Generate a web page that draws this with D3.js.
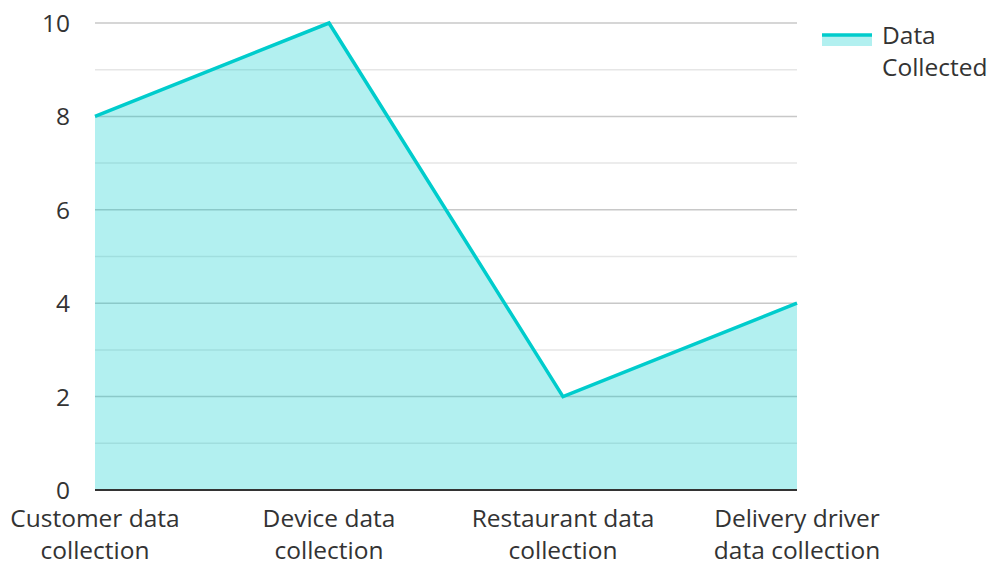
<!DOCTYPE html>
<html>
<head>
<meta charset="utf-8">
<script src="https://cdn.jsdelivr.net/npm/d3@7"></script>
<style>
  body { margin: 0; background: #fff; }
  svg text { font-family: "Open Sans", "Noto Sans", sans-serif; fill: #333; }
</style>
</head>
<body>
<div id="chart"></div>
<script>

// data
const categories = [
  ["Customer data", "collection"],
  ["Device data", "collection"],
  ["Restaurant data", "collection"],
  ["Delivery driver", "data collection"]
];
const values = [8, 10, 2, 4];
const yTicks = [0, 2, 4, 6, 8, 10];
const minorTicks = [1, 3, 5, 7, 9];
const seriesName = ["Data", "Collected"];

const W = 992, H = 562;
const lineColor = "#00cccc";
const fontSize = 24.5;

const svg = d3.select("#chart").append("svg")
  .attr("width", W)
  .attr("height", H);

const x = d3.scalePoint()
  .domain(d3.range(categories.length))
  .range([95, 797])
  .padding(0);

const y = d3.scaleLinear()
  .domain([0, 10])
  .range([490, 23]);

// grid
svg.append("g").selectAll("line.minor")
  .data(minorTicks)
  .join("line")
  .attr("x1", 95).attr("x2", 797)
  .attr("y1", d => y(d)).attr("y2", d => y(d))
  .attr("stroke", "#e6e6e6")
  .attr("stroke-width", 1.5);

svg.append("g").selectAll("line.major")
  .data(yTicks.filter(d => d > 0))
  .join("line")
  .attr("x1", 95).attr("x2", 797)
  .attr("y1", d => y(d)).attr("y2", d => y(d))
  .attr("stroke", "#c8c8c8")
  .attr("stroke-width", 1.5);

// area + line
const area = d3.area()
  .x((d, i) => x(i))
  .y0(y(0))
  .y1(d => y(d));

const line = d3.line()
  .x((d, i) => x(i))
  .y(d => y(d));

svg.append("path")
  .datum(values)
  .attr("d", area)
  .attr("fill", lineColor)
  .attr("fill-opacity", 0.3);

svg.append("path")
  .datum(values)
  .attr("d", line)
  .attr("fill", "none")
  .attr("stroke", lineColor)
  .attr("stroke-width", 3.5)
  .attr("stroke-linejoin", "miter");

// baseline
svg.append("line")
  .attr("x1", 95).attr("x2", 797)
  .attr("y1", y(0)).attr("y2", y(0))
  .attr("stroke", "#333")
  .attr("stroke-width", 2);

// y tick labels
svg.append("g").selectAll("text")
  .data(yTicks)
  .join("text")
  .attr("x", 70)
  .attr("y", d => y(d) + 9)
  .attr("text-anchor", "end")
  .attr("font-size", fontSize)
  .text(d => d);

// x labels
const xl = svg.append("g").selectAll("text")
  .data(categories)
  .join("text")
  .attr("text-anchor", "middle")
  .attr("font-size", fontSize);

xl.selectAll("tspan")
  .data((d, i) => d.map(t => ({ t: t, i: i })))
  .join("tspan")
  .attr("x", d => x(d.i))
  .attr("y", (d, j) => 527 + j * 32)
  .text(d => d.t);

// legend
const lg = svg.append("g");
lg.append("rect")
  .attr("x", 822).attr("y", 34)
  .attr("width", 50).attr("height", 12)
  .attr("fill", lineColor)
  .attr("fill-opacity", 0.3);
lg.append("line")
  .attr("x1", 822).attr("x2", 872)
  .attr("y1", 35).attr("y2", 35)
  .attr("stroke", lineColor)
  .attr("stroke-width", 3.5);
lg.append("text")
  .attr("font-size", fontSize)
  .selectAll("tspan")
  .data(seriesName)
  .join("tspan")
  .attr("x", 882)
  .attr("y", (d, j) => 44 + j * 32)
  .text(d => d);

</script>
</body>
</html>
